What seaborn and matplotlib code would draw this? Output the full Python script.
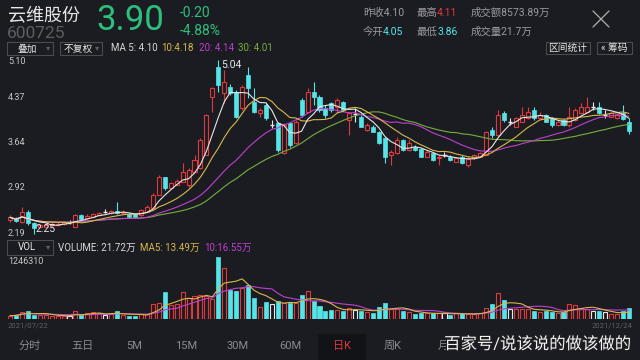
import numpy as np
import pandas as pd
import matplotlib
matplotlib.use('Agg')
import matplotlib.pyplot as plt
import seaborn as sns
from matplotlib.patches import Rectangle
from matplotlib.lines import Line2D
import matplotlib.patheffects as pe

sns.set_theme(style='dark')
plt.rcParams['font.family'] = ['Roboto', 'Noto Sans CJK SC', 'DejaVu Sans']

# ---------------- data ----------------
dates = ['2021/07/22', '2021/12/24']
price_ticks = [5.10, 4.37, 3.64, 2.92, 2.19]
vol_max_label = 1246310

opens = [2.48, 2.51, 2.45, 2.61, 2.43, 2.37, 2.37, 2.39, 2.40, 2.41,
         2.44, 2.37, 2.56, 2.51, 2.52, 2.56, 2.61, 2.59, 2.62, 2.59,
         2.57, 2.57, 2.56, 2.61, 2.67, 2.88, 3.16, 2.99, 3.04, 3.09,
         3.04, 3.25, 3.31, 3.52, 4.45, 4.93, 4.51, 4.61, 4.53, 4.27,
         4.80, 4.37, 4.19, 4.32, 4.00, 4.03, 3.55, 4.03, 3.71, 4.40,
         4.21, 4.53, 4.45, 4.27, 4.35, 4.29, 4.37, 4.08, 4.18, 4.13,
         3.92, 3.97, 3.89, 3.79, 3.52, 3.55, 3.76, 3.60, 3.65, 3.62,
         3.49, 3.55, 3.47, 3.52, 3.49, 3.41, 3.49, 3.36, 3.47, 3.49,
         3.52, 3.92, 3.84, 4.19, 4.05, 3.97, 4.05, 4.11, 4.24, 4.11,
         4.16, 4.11, 4.00, 4.08, 4.00, 4.08, 4.19, 4.21, 4.29, 4.29,
         4.16, 4.13, 4.11, 4.19, 4.05]
closes = [2.52, 2.46, 2.60, 2.43, 2.35, 2.39, 2.40, 2.41, 2.42, 2.44,
          2.44, 2.55, 2.50, 2.54, 2.57, 2.59, 2.61, 2.62, 2.59, 2.61,
          2.53, 2.52, 2.64, 2.69, 2.88, 3.17, 2.99, 3.07, 3.10, 3.25,
          3.28, 3.44, 3.76, 4.16, 4.59, 4.64, 4.69, 4.51, 4.13, 4.61,
          4.59, 4.21, 4.24, 4.11, 4.00, 3.60, 4.00, 3.68, 4.05, 4.16,
          4.53, 4.45, 4.24, 4.16, 4.24, 4.40, 4.24, 4.19, 4.18, 3.97,
          4.00, 3.89, 3.71, 3.49, 3.57, 3.76, 3.60, 3.71, 3.60, 3.49,
          3.57, 3.44, 3.49, 3.52, 3.44, 3.47, 3.39, 3.46, 3.52, 3.55,
          3.89, 3.84, 4.16, 4.08, 4.05, 4.11, 4.16, 4.21, 4.11, 4.16,
          4.05, 4.00, 4.05, 4.00, 4.13, 4.24, 4.29, 4.29, 4.29, 4.19,
          4.16, 4.19, 4.17, 4.10, 3.90]
highs = [2.56, 2.53, 2.68, 2.64, 2.44, 2.41, 2.43, 2.44, 2.44, 2.46,
         2.48, 2.57, 2.57, 2.57, 2.59, 2.61, 2.66, 2.64, 2.77, 2.63,
         2.59, 2.59, 2.66, 2.71, 2.91, 3.19, 3.17, 3.09, 3.14, 3.39,
         3.31, 3.52, 3.79, 4.17, 4.61, 5.04, 4.88, 4.65, 4.56, 4.64,
         4.93, 4.59, 4.27, 4.35, 4.08, 4.05, 4.03, 4.05, 4.08, 4.43,
         4.59, 4.69, 4.48, 4.32, 4.37, 4.43, 4.38, 4.21, 4.27, 4.15,
         4.03, 3.99, 3.90, 3.81, 3.60, 3.81, 3.78, 3.76, 3.67, 3.63,
         3.59, 3.57, 3.52, 3.56, 3.51, 3.48, 3.51, 3.48, 3.54, 3.56,
         3.90, 3.97, 4.24, 4.22, 4.11, 4.13, 4.29, 4.29, 4.28, 4.21,
         4.18, 4.12, 4.07, 4.10, 4.28, 4.27, 4.35, 4.45, 4.37, 4.37,
         4.24, 4.20, 4.19, 4.32, 4.11]
lows = [2.45, 2.44, 2.43, 2.40, 2.25, 2.36, 2.36, 2.37, 2.38, 2.39,
        2.42, 2.36, 2.48, 2.49, 2.51, 2.54, 2.59, 2.57, 2.57, 2.57,
        2.51, 2.51, 2.54, 2.60, 2.66, 2.87, 2.96, 2.98, 3.03, 3.08,
        3.01, 3.24, 3.30, 3.51, 4.21, 4.53, 4.35, 4.48, 4.11, 4.24,
        4.43, 4.19, 4.13, 4.08, 3.95, 3.57, 3.53, 3.65, 3.69, 4.13,
        4.19, 4.32, 4.21, 4.11, 4.21, 4.19, 4.22, 3.84, 4.05, 3.96,
        3.90, 3.88, 3.69, 3.39, 3.36, 3.53, 3.58, 3.58, 3.58, 3.48,
        3.48, 3.42, 3.36, 3.48, 3.42, 3.40, 3.37, 3.33, 3.45, 3.48,
        3.51, 3.79, 3.81, 4.05, 4.00, 3.96, 4.04, 4.09, 4.08, 4.09,
        4.04, 3.97, 3.98, 3.98, 3.97, 4.06, 4.17, 4.20, 4.24, 4.17,
        4.11, 4.12, 4.09, 4.08, 3.86]
volumes = [66000, 79000, 145000, 158000, 86000, 79000, 79000, 66000, 66000, 53000,
           66000, 165000, 79000, 112000, 132000, 112000, 79000, 99000, 158000, 79000,
           66000, 66000, 92000, 92000, 310000, 330000, 541000, 277000, 297000, 541000,
           429000, 462000, 481000, 462000, 396000, 1246310, 1022000, 580000, 560000, 626000,
           692000, 429000, 251000, 349000, 297000, 363000, 330000, 330000, 316000, 475000,
           560000, 363000, 264000, 165000, 185000, 178000, 165000, 231000, 185000, 165000,
           132000, 119000, 251000, 316000, 198000, 198000, 158000, 132000, 99000, 119000,
           112000, 119000, 112000, 112000, 79000, 112000, 112000, 99000, 99000, 112000,
           231000, 297000, 527000, 382000, 198000, 198000, 211000, 211000, 165000, 145000,
           158000, 145000, 119000, 132000, 297000, 277000, 231000, 211000, 165000, 165000,
           132000, 92000, 92000, 158000, 217200]

# ---------------- style ----------------
BG = '#1b1c21'
RED = '#e0393c'
CYAN = '#55e4e8'
WHITE = '#e8e8ea'
GRAY = '#9a9aa0'
DGRAY = '#5d5d62'
C_MA5 = '#e6e6e6'
C_MA10 = '#d6b84a'
C_MA20 = '#c03fd2'
C_MA30 = '#78ad3c'
GREEN = '#2cc07c'

df = pd.DataFrame({'i': np.arange(len(closes)), 'open': opens, 'close': closes,
                   'high': highs, 'low': lows, 'vol': volumes})
for n in (5, 10, 20, 30):
    df[f'ma{n}'] = df['close'].rolling(n, min_periods=1).mean()
df['vma5'] = df['vol'].rolling(5, min_periods=1).mean()
df['vma10'] = df['vol'].rolling(10, min_periods=1).mean()

fig = plt.figure(figsize=(6.4, 3.6), dpi=100, facecolor=BG)


def fx(px):
    return px / 640


def fy(py):
    return 1 - py / 360


def T(x, y, s, size=7, color=GRAY, ha='left', **kw):
    return fig.text(fx(x), fy(y), s, fontsize=size, color=color, ha=ha, va='center', **kw)


def box(x0, y0, x1, y1, ec='#4a4a50', fc='none', lw=0.8, z=1):
    fig.add_artist(Rectangle((fx(x0), fy(y1)), (x1 - x0) / 640, (y1 - y0) / 360,
                             transform=fig.transFigure, ec=ec, fc=fc, lw=lw, zorder=z))


XL = (-1.68, 105.85)

# ---------------- price axes ----------------
ax = fig.add_axes([0, fy(238), 1, (238 - 56) / 360])
ax.set_facecolor(BG)

W = 0.68
for r in df.itertuples():
    o, c, h, l = r.open, r.close, r.high, r.low
    if c > o:
        col = RED
        ax.vlines(r.i, c, h, color=col, lw=0.8)
        ax.vlines(r.i, l, o, color=col, lw=0.8)
        ax.bar(r.i, c - o, bottom=o, width=W, facecolor=BG, edgecolor=col, linewidth=0.8)
    elif c < o:
        col = CYAN
        ax.vlines(r.i, l, h, color=col, lw=0.8)
        ax.bar(r.i, o - c, bottom=c, width=W, facecolor=col, edgecolor=col, linewidth=0.5)
    else:
        col = WHITE
        ax.vlines(r.i, l, h, color=col, lw=0.8)
        ax.hlines(c, r.i - W / 2, r.i + W / 2, color=col, lw=1.0)

for n, colr in ((30, C_MA30), (20, C_MA20), (10, C_MA10), (5, C_MA5)):
    sns.lineplot(data=df, x='i', y=f'ma{n}', ax=ax, color=colr, linewidth=0.8, legend=False)
ax.set_xlim(*XL)
ax.set_ylim(2.19, 5.10)
ax.axis('off')

# price labels
T(8, 61, f'{price_ticks[0]:.2f}', size=6.5, color='#c8c8cc')
for p, yy in zip(price_ticks[1:], (98, 143, 188, 234)):
    T(8, yy, f'{p:.2f}', size=6.5, color='#c8c8cc')
T(221, 65, '5.04', size=7.5, color=WHITE)
T(36, 229, '2.25', size=7.5, color=WHITE)

# ---------------- volume axes ----------------
axv = fig.add_axes([0, fy(319), 1, (319 - 257) / 360])
axv.set_facecolor(BG)
for r in df.itertuples():
    if r.close > r.open:
        axv.bar(r.i, r.vol, width=W, facecolor=BG, edgecolor=RED, linewidth=0.8)
    elif r.close < r.open:
        axv.bar(r.i, r.vol, width=W, facecolor=CYAN, edgecolor=CYAN, linewidth=0.5)
    else:
        axv.bar(r.i, r.vol, width=W, facecolor=BG, edgecolor=WHITE, linewidth=0.8)
sns.lineplot(data=df, x='i', y='vma10', ax=axv, color=C_MA20, linewidth=0.8, legend=False)
sns.lineplot(data=df, x='i', y='vma5', ax=axv, color=C_MA10, linewidth=0.8, legend=False)
axv.set_xlim(*XL)
axv.set_ylim(0, vol_max_label)
axv.axis('off')

T(8, 262, str(vol_max_label), size=6.5, color='#c8c8cc')
T(8, 326, dates[0], size=5.5, color=DGRAY)
T(632, 326, dates[1], size=5.5, color=DGRAY, ha='right')

# ---------------- header ----------------
T(8, 15, '云维股份', size=13, color=WHITE)
T(7, 33, '600725', size=12.5, color=DGRAY)
T(96, 20, '3.90', size=25, color=GREEN)
T(180, 13, '-0.20', size=10, color=GREEN)
T(180, 31, '-4.88%', size=10, color=GREEN)

T(363, 13, '昨收4.10', size=7.5, color=GRAY)
T(417, 13, '最高', size=7.5, color=GRAY)
T(437, 13, '4.11', size=7.5, color=RED)
T(471, 13, '成交额8573.89万', size=7.5, color=GRAY)
T(363, 32, '今开', size=7.5, color=GRAY)
T(383, 32, '4.05', size=7.5, color=CYAN)
T(417, 32, '最低', size=7.5, color=GRAY)
T(437, 32, '3.86', size=7.5, color=CYAN)
T(471, 32, '成交量21.7万', size=7.5, color=GRAY)

# close "X"
for (x0, y0, x1, y1) in ((593, 11, 609, 27), (593, 27, 609, 11)):
    fig.add_artist(Line2D([fx(x0), fx(x1)], [fy(y0), fy(y1)], transform=fig.transFigure,
                          color='#b0b0b4', lw=0.9))

# toolbar row
box(7, 42, 53, 55)
T(17, 48.5, '叠加', size=7, color=WHITE)
T(48, 48.5, '▾', size=6, color=DGRAY, ha='center')
box(60, 42, 102, 55)
T(64, 48.5, '不复权', size=7, color=WHITE)
T(97, 48.5, '▾', size=6, color=DGRAY, ha='center')
T(111, 48, 'MA 5: 4.10', size=7, color='#d8d8dc')
T(161, 48, '10:4.18', size=7, color=C_MA10)
T(199, 48, '20: 4.14', size=7, color=C_MA20)
T(238, 48, '30: 4.01', size=7, color=C_MA30)

box(546, 42, 590, 54)
T(568, 48, '区间统计', size=7, color=WHITE, ha='center')
box(597, 42, 632, 54)
T(614.5, 48, '« 筹码', size=7, color=WHITE, ha='center')

# volume header
box(7, 240, 53, 255)
T(18, 247.5, 'VOL', size=7, color=WHITE)
T(48, 247.5, '▾', size=6, color=DGRAY, ha='center')
T(58, 248, 'VOLUME: 21.72万', size=7, color='#d8d8dc')
T(140, 248, 'MA5: 13.49万', size=7, color=C_MA10)
T(204, 248, '10:16.55万', size=7, color=C_MA20)

# ---------------- bottom tab bar ----------------
box(318, 334, 366, 361, ec='none', fc='#121316', z=0)
tabs = ['分时', '五日', '5M', '15M', '30M', '60M', '日K', '周K']
tab_x = [30, 82, 134, 186, 238, 290, 342, 393]
for s, x in zip(tabs, tab_x):
    T(x, 346, s, size=8, color=RED if s == '日K' else '#8a8a90', ha='center')
T(438, 346, '月', size=8, color='#8a8a90')
wm = T(631, 344, '百家号/说该说的做该做的', size=11.8, color='#f4f4f4', ha='right')
wm.set_path_effects([pe.withStroke(linewidth=1.5, foreground='#202024')])

fig.savefig('out.png', dpi=100, facecolor=BG)
